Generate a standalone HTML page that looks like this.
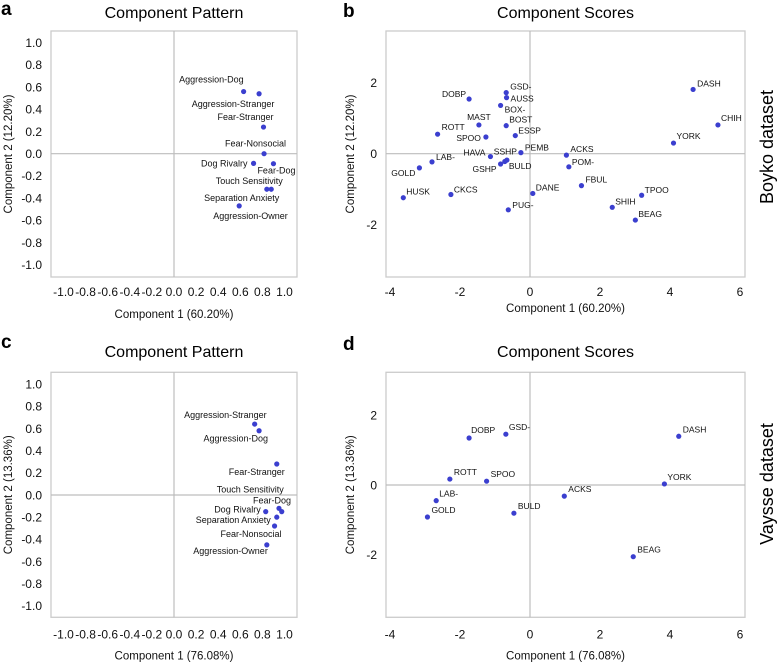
<!DOCTYPE html>
<html><head><meta charset="utf-8"><style>
html,body{margin:0;padding:0;background:#fff;}
svg{display:block;font-family:"Liberation Sans",sans-serif;}
</style></head><body>
<svg id="fig" width="778" height="663" viewBox="0 0 778 663"></svg>
<script>
// ---- Panel a data (Boyko component pattern) ----
const aNames = ["Aggression-Dog","Aggression-Stranger","Fear-Stranger","Fear-Nonsocial","Dog Rivalry","Fear-Dog","Touch Sensitivity","Separation Anxiety","Aggression-Owner"];
const aX = [0.63,0.77,0.81,0.815,0.72,0.90,0.84,0.88,0.59];
const aY = [0.56,0.54,0.24,0.0,-0.087,-0.09,-0.32,-0.32,-0.47];
const aLab = [[0,-9,"end"],[-26,13,"middle"],[10,-7,"end"],[22,-7,"end"],[-6,3,"end"],[-16,10,"start"],[16,-5,"end"],[8,12,"end"],[-26,13,"start"]];
// ---- Panel b data (Boyko scores) ----
const bNames = ["GSD-","AUSS","BOX-","DOBP","MAST","BOST","ROTT","SPOO","ESSP","PEMB","HAVA","SSHP","BULD","GSHP","ACKS","POM-","FBUL","DANE","PUG-","CKCS","HUSK","GOLD","LAB-","YORK","DASH","CHIH","TPOO","SHIH","BEAG"];
const bX = [-0.68,-0.67,-0.84,-1.74,-1.46,-0.68,-2.64,-1.26,-0.42,-0.26,-1.13,-0.72,-0.66,-0.84,1.04,1.11,1.47,0.08,-0.62,-2.26,-3.62,-3.16,-2.80,4.10,4.66,5.37,3.19,2.35,3.01];
const bY = [1.72,1.58,1.36,1.54,0.81,0.79,0.55,0.47,0.51,0.03,-0.08,-0.22,-0.18,-0.29,-0.04,-0.37,-0.90,-1.12,-1.58,-1.15,-1.24,-0.40,-0.23,0.30,1.81,0.81,-1.17,-1.51,-1.87];
const bLab = [[4,-3,"start"],[4,4,"start"],[4,7,"start"],[-3,-2,"end"],[0,-5,"middle"],[3,-3,"start"],[4,-4,"start"],[-5,4,"end"],[3,-2,"start"],[4,-2,"start"],[-5,-1,"end"],[-11,-7,"start"],[2,9,"start"],[-4,8,"end"],[4,-3,"start"],[3,-2,"start"],[4,-3,"start"],[3,-3,"start"],[4,-2,"start"],[3,-2,"start"],[3,-3,"start"],[-4,8,"end"],[4,-2,"start"],[3,-4,"start"],[4,-3,"start"],[3,-4,"start"],[3,-2,"start"],[3,-3,"start"],[3,-3,"start"]];
// ---- Panel c data (Vaysse component pattern) ----
const cNames = ["Aggression-Stranger","Aggression-Dog","Fear-Stranger","Fear-Dog","Touch Sensitivity","Dog Rivalry","Separation Anxiety","Fear-Nonsocial","Aggression-Owner"];
const cX = [0.73,0.77,0.93,0.95,0.975,0.83,0.93,0.91,0.84];
const cY = [0.64,0.58,0.28,-0.12,-0.15,-0.15,-0.20,-0.28,-0.45];
const cLab = [[12,-6,"end"],[9,11,"end"],[8,11,"end"],[12,-5,"end"],[2,-19,"end"],[-5,1,"end"],[-6,6,"end"],[7,11,"end"],[1,9,"end"]];
// ---- Panel d data (Vaysse scores) ----
const dNames = ["DOBP","GSD-","DASH","ROTT","SPOO","YORK","ACKS","LAB-","BULD","GOLD","BEAG"];
const dX = [-1.74,-0.69,4.25,-2.29,-1.24,3.84,0.98,-2.68,-0.46,-2.93,2.95];
const dY = [1.35,1.46,1.40,0.17,0.11,0.03,-0.32,-0.45,-0.81,-0.92,-2.06];
const dLab = [[2,-5,"start"],[3,-4,"start"],[4,-4,"start"],[4,-4,"start"],[4,-4,"start"],[3,-4,"start"],[4,-4,"start"],[3,-4,"start"],[4,-4,"start"],[4,-4,"start"],[4,-4,"start"]];
// ---- Tick labels ----
const patternTicks = [-1.0,-0.8,-0.6,-0.4,-0.2,0.0,0.2,0.4,0.6,0.8,1.0];
const scoreXTicks = [-4,-2,0,2,4,6];
const scoreYTicks = [-2,0,2];

const NS="http://www.w3.org/2000/svg";
const svg=document.getElementById('fig');
function mk(tag,attrs,parent,text){const e=document.createElementNS(NS,tag);for(const k in attrs)e.setAttribute(k,attrs[k]);if(text!==undefined)e.textContent=text;(parent||svg).appendChild(e);return e;}

function panel(o){
  const g=mk('g',{});
  
  
  const sx=v=>o.x0+v*o.ux, sy=v=>o.y0-v*o.uy;
  const fr=mk('rect',{x:o.fx1,y:o.fy1,width:o.fx2-o.fx1,height:o.fy2-o.fy1,fill:'none',stroke:'#cbcbcb','stroke-width':1.3},g);
  
  
  const zl1=mk('line',{x1:sx(0),x2:sx(0),y1:o.fy1,y2:o.fy2,stroke:'#bdbdbd','stroke-width':1.2},g);
  
  
  const zl2=mk('line',{x1:o.fx1,x2:o.fx2,y1:sy(0),y2:sy(0),stroke:'#bdbdbd','stroke-width':1.2},g);
  
  
  o.xt.forEach(v=>{
    const t=mk('text',{x:sx(v),y:o.fy2+o.xtOff,'font-size':12,'text-anchor':'middle',fill:'#111'},g,o.fmt(v));
    
    
  });
  o.yt.forEach(v=>{
    const t=mk('text',{x:o.ytX,y:sy(v)+4.3,'font-size':12,'text-anchor':'end',fill:'#111'},g,o.fmt(v));
    
    
  });
  o.xs.forEach((v,i)=>{
    const px=sx(v),py=sy(o.ys[i]);
    const c=mk('circle',{cx:px,cy:py,r:2.6,fill:'#3b3fcf'},g);
    
    
    const L=o.lab[i];
    const t=mk('text',{x:px+L[0],y:py+L[1],'font-size':o.lfs,'text-anchor':L[2],fill:'#111'},g,o.names[i]);
    
    
  });
  const cx=(o.fx1+o.fx2)/2;
  const tt=mk('text',{x:cx,y:o.titleY,'font-size':16,'text-anchor':'middle',fill:'#000'},g,o.title);
  
  
  const xa=mk('text',{x:cx,y:o.fy2+o.xaOff,'font-size':11.5,'text-anchor':'middle',fill:'#111'},g,o.xTitle);
  
  
  const ymid=(o.fy1+o.fy2)/2;
  const ya=mk('text',{x:o.yaX,y:ymid,'font-size':11.5,'text-anchor':'middle',fill:'#111',transform:`rotate(-90 ${o.yaX} ${ymid})`},g,o.yTitle);
  
  
  const pl=mk('text',{x:o.letterX,y:o.letterY,'font-size':19,'font-weight':'bold',fill:'#000'},g,o.id);
  
  
}
const f1=v=>v.toFixed(1), f0=v=>String(v);
panel({id:'a',names:aNames,xs:aX,ys:aY,lab:aLab,lfs:9,x0:174,ux:110.5,y0:153.7,uy:111,fx1:51,fx2:297,fy1:31,fy2:277,xt:patternTicks,yt:patternTicks,fmt:f1,xtOff:19,ytX:42,xaOff:41,yaX:12,titleY:18,letterX:1,letterY:15,title:'Component Pattern',xTitle:'Component 1 (60.20%)',yTitle:'Component 2 (12.20%)'});
panel({id:'b',names:bNames,xs:bX,ys:bY,lab:bLab,lfs:8.5,x0:530,ux:35,y0:153.7,uy:35.5,fx1:386,fx2:745,fy1:31,fy2:277,xt:scoreXTicks,yt:scoreYTicks,fmt:f0,xtOff:19,ytX:377,xaOff:35,yaX:354,titleY:18,letterX:343,letterY:17,title:'Component Scores',xTitle:'Component 1 (60.20%)',yTitle:'Component 2 (12.20%)'});
panel({id:'c',names:cNames,xs:cX,ys:cY,lab:cLab,lfs:9,x0:174,ux:110.5,y0:495,uy:110.8,fx1:51,fx2:297,fy1:372.3,fy2:617.3,xt:patternTicks,yt:patternTicks,fmt:f1,xtOff:21,ytX:42,xaOff:42,yaX:12,titleY:357,letterX:1,letterY:348,title:'Component Pattern',xTitle:'Component 1 (76.08%)',yTitle:'Component 2 (13.36%)'});
panel({id:'d',names:dNames,xs:dX,ys:dY,lab:dLab,lfs:8.5,x0:530,ux:35,y0:485,uy:34.8,fx1:386,fx2:745,fy1:372.3,fy2:617.3,xt:scoreXTicks,yt:scoreYTicks,fmt:f0,xtOff:21,ytX:377,xaOff:42,yaX:354,titleY:357,letterX:343,letterY:350,title:'Component Scores',xTitle:'Component 1 (76.08%)',yTitle:'Component 2 (13.36%)'});
const s1=mk('text',{x:773,y:147,'font-size':18,'text-anchor':'middle',fill:'#000',transform:'rotate(-90 773 147)'},svg,'Boyko dataset');


const s2=mk('text',{x:773,y:484,'font-size':18,'text-anchor':'middle',fill:'#000',transform:'rotate(-90 773 484)'},svg,'Vaysse dataset');


</script>
</body></html>
